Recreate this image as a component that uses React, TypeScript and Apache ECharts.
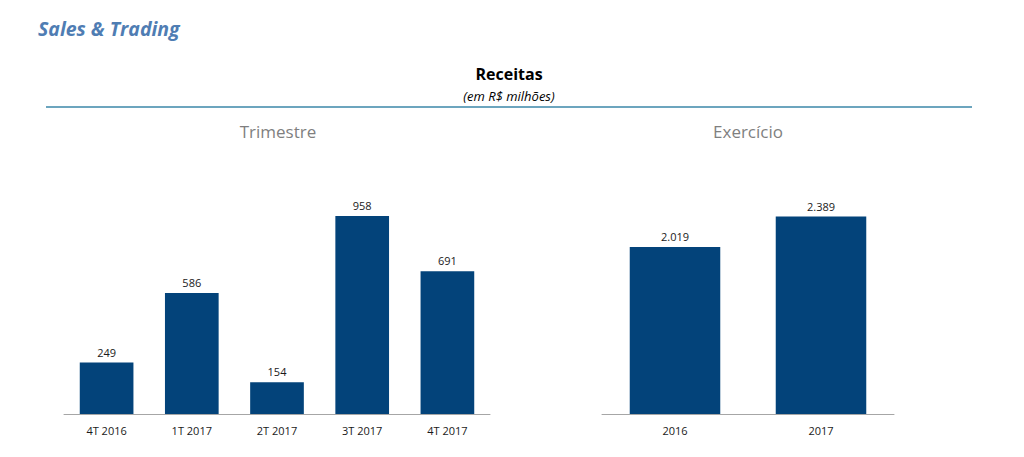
import React, { useEffect, useRef } from "react";
import * as echarts from "echarts";

const quarterCategories = ["4T 2016", "1T 2017", "2T 2017", "3T 2017", "4T 2017"];
const quarterValues = [249, 586, 154, 958, 691];
const yearCategories = ["2016", "2017"];
const yearValues = [2019, 2389];

const BAR_COLOR = "#03437a";
const FONT = "'Open Sans', 'Noto Sans', sans-serif";

const fmt = (v: number) => {
  const s = String(Math.round(v));
  return s.replace(/\B(?=(\d{3})+(?!\d))/g, ".");
};

export default function App() {
  const ref = useRef<HTMLDivElement>(null);
  useEffect(() => {
    if (!ref.current) return;
    const chart = echarts.init(ref.current, undefined, { renderer: "svg" });
    const axisCommon = {
      type: "category" as const,
      axisLine: { show: true, lineStyle: { color: "#a6a6a6", width: 1 } },
      axisTick: { show: false },
      axisLabel: { color: "#1a1a1a", fontSize: 11, fontFamily: FONT, margin: 11 },
    };
    const labelCommon = {
      show: true,
      position: "top" as const,
      distance: 5,
      color: "#1a1a1a",
      fontSize: 11,
      fontFamily: FONT,
      formatter: (p: any) => fmt(p.value),
    };
    chart.setOption({
      animation: false,
      backgroundColor: "#ffffff",
      grid: [
        { left: 64, top: 166, width: 426, height: 248 },
        { left: 602, top: 166, width: 292, height: 248 },
      ],
      xAxis: [
        { ...axisCommon, gridIndex: 0, data: quarterCategories },
        { ...axisCommon, gridIndex: 1, data: yearCategories },
      ],
      yAxis: [
        { type: "value", gridIndex: 0, min: 0, max: 1200, show: false, splitLine: { show: false } },
        { type: "value", gridIndex: 1, min: 0, max: 3000, show: false, splitLine: { show: false } },
      ],
      series: [
        {
          type: "bar",
          xAxisIndex: 0,
          yAxisIndex: 0,
          data: quarterValues,
          barWidth: "63%",
          itemStyle: { color: BAR_COLOR },
          label: labelCommon,
        },
        {
          type: "bar",
          xAxisIndex: 1,
          yAxisIndex: 1,
          data: yearValues,
          barWidth: "62%",
          itemStyle: { color: BAR_COLOR },
          label: labelCommon,
        },
      ],
      graphic: [
        {
          type: "text",
          x: 38,
          y: 28,
          style: {
            text: "Sales & Trading",
            fill: "#4f7db3",
            font: `italic bold 19.5px ${FONT}`,
            verticalAlign: "middle",
          },
        },
        {
          type: "text",
          x: 509,
          y: 74,
          style: {
            text: "Receitas",
            fill: "#000000",
            font: `bold 16px ${FONT}`,
            align: "center",
            verticalAlign: "middle",
          },
        },
        {
          type: "text",
          x: 509,
          y: 96,
          style: {
            text: "(em R$ milhões)",
            fill: "#000000",
            font: `italic 13px ${FONT}`,
            align: "center",
            verticalAlign: "middle",
          },
        },
        {
          type: "line",
          shape: { x1: 46, y1: 107, x2: 972, y2: 107 },
          style: { stroke: "#3b87a8", lineWidth: 1.5 },
        },
        {
          type: "text",
          x: 278,
          y: 131,
          style: {
            text: "Trimestre",
            fill: "#7f7f7f",
            font: `17px ${FONT}`,
            align: "center",
            verticalAlign: "middle",
          },
        },
        {
          type: "text",
          x: 748,
          y: 131,
          style: {
            text: "Exercício",
            fill: "#7f7f7f",
            font: `17px ${FONT}`,
            align: "center",
            verticalAlign: "middle",
          },
        },
      ],
    });
    return () => chart.dispose();
  }, []);
  return (
    <div
      ref={ref}
      style={{ position: "fixed", left: 0, top: 0, width: 1024, height: 457, background: "#fff" }}
    />
  );
}
